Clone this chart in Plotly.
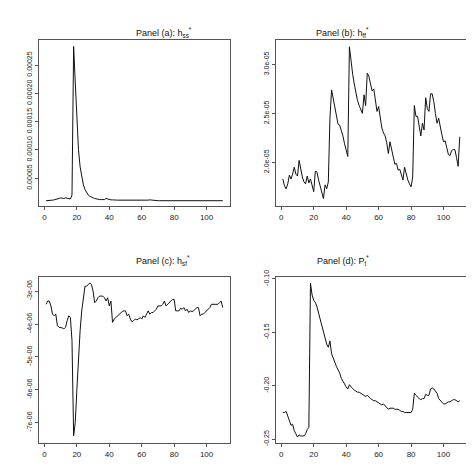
import plotly.graph_objects as go

t = list(range(1, 111))

# panel (a), units of 1e-5
h_a = [1.0, 1.0, 1.05, 1.1, 1.1, 1.15, 1.2, 1.3, 1.4, 1.5, 1.45, 1.4, 1.5, 1.4, 1.3, 1.3,
       2.0, 28.3, 22.0, 15.0, 10.0, 7.0, 5.0, 3.8, 3.0, 2.4, 2.0, 1.8, 1.6, 1.5,
       1.4, 1.3, 1.3, 1.2, 1.2, 1.2, 1.2, 1.4, 1.3, 1.2,
       1.15, 1.15, 1.1, 1.1, 1.1, 1.1, 1.1, 1.05, 1.05, 1.05, 1.05, 1.05, 1.05, 1.05, 1.05,
       1.0, 1.0, 1.0, 1.05, 1.05, 1.0, 1.0, 1.05, 1.1, 1.15, 1.1, 1.05, 1.0, 1.0, 1.0,
       1.0, 1.0, 1.0, 1.0, 1.0, 1.0, 1.0, 1.0, 1.0, 1.0, 1.0, 1.0, 1.0, 1.0, 1.0,
       1.0, 1.0, 1.0, 1.0, 1.0, 1.0, 1.0, 1.0, 1.0, 1.0, 1.05, 1.1, 1.1, 1.05, 1.0,
       1.0, 1.0, 1.0, 1.0, 1.0, 1.0, 1.0, 1.0, 1.0, 1.0]

# panel (b), units of 1e-5
h_b = [1.83, 1.76, 1.73, 1.78, 1.87, 1.83, 1.88, 1.95, 1.88, 1.86, 2.02, 1.93, 1.85, 1.80, 1.78,
       1.86, 1.79, 1.83, 1.76, 1.70, 1.91, 1.90, 1.82, 1.76, 1.68, 1.63, 1.77, 1.73, 1.80, 2.45,
       2.74, 2.65, 2.55, 2.47, 2.39, 2.38, 2.33, 2.27, 2.19, 2.12, 2.06, 3.18, 3.02, 2.90, 2.80,
       2.70, 2.63, 2.58, 2.53, 2.50, 2.69, 2.58, 2.91, 2.88, 2.80, 2.73, 2.75, 2.62, 2.52, 2.57,
       2.45, 2.35, 2.30, 2.27, 2.20, 2.09, 2.21, 2.14, 2.05, 1.98, 1.99, 1.92, 1.93, 1.86, 1.82,
       1.95, 1.88, 1.82, 1.78, 1.75, 1.85, 2.58, 2.47, 2.47, 2.37, 2.27, 2.40, 2.33, 2.66, 2.55,
       2.52, 2.70, 2.70, 2.62, 2.50, 2.40, 2.45, 2.35, 2.28, 2.21, 2.22, 2.15, 2.08, 2.07, 2.12,
       2.13, 2.13, 2.05, 1.96, 2.26]

# panel (c), units of 1e-6
h_c = [-3.4, -3.3, -3.3, -3.45, -3.7, -3.75, -3.7, -4.05, -4.1, -4.1, -4.12, -4.15, -4.1, -3.9, -3.75,
       -3.8, -4.5, -7.4, -7.0, -6.0, -5.0, -4.2, -3.6, -3.15, -2.85, -2.85, -2.8, -2.75, -2.8, -3.0,
       -3.35, -3.3, -3.2, -3.15, -3.15, -3.15, -3.2, -3.3, -3.2, -3.45, -3.3, -3.95, -3.85, -3.8, -3.75,
       -3.7, -3.65, -3.62, -3.6, -3.6, -3.75, -3.7, -3.85, -3.93, -3.9, -3.85, -3.87, -3.85, -3.8, -3.85,
       -3.75, -3.8, -3.7, -3.6, -3.7, -3.65, -3.65, -3.6, -3.55, -3.45, -3.45, -3.45, -3.4, -3.3, -3.45,
       -3.4, -3.35, -3.3, -3.25, -3.25, -3.6, -3.6, -3.6, -3.52, -3.55, -3.5, -3.6, -3.55, -3.65, -3.6,
       -3.62, -3.6, -3.55, -3.5, -3.5, -3.75, -3.7, -3.7, -3.65, -3.6, -3.55, -3.5, -3.4, -3.4, -3.4,
       -3.4, -3.4, -3.35, -3.3, -3.5]

# panel (d)
p_d = [-0.225, -0.225, -0.224, -0.228, -0.232, -0.237, -0.236, -0.242, -0.245, -0.248, -0.246, -0.247,
       -0.247, -0.247, -0.245, -0.241, -0.239, -0.104, -0.115, -0.120, -0.122, -0.126, -0.132, -0.138,
       -0.144, -0.150, -0.156, -0.161, -0.164, -0.158, -0.170, -0.175, -0.178, -0.182, -0.185, -0.188,
       -0.193, -0.196, -0.199, -0.201, -0.203, -0.199, -0.201, -0.203, -0.204, -0.205, -0.206, -0.206,
       -0.207, -0.208, -0.209, -0.210, -0.209, -0.211, -0.212, -0.213, -0.214, -0.214, -0.215, -0.216,
       -0.217, -0.218, -0.217, -0.219, -0.221, -0.222, -0.221, -0.221, -0.221, -0.222, -0.222, -0.222,
       -0.223, -0.224, -0.224, -0.225, -0.225, -0.225, -0.225, -0.225, -0.222, -0.207, -0.209, -0.211,
       -0.212, -0.213, -0.212, -0.212, -0.208, -0.209, -0.209, -0.203, -0.202, -0.203, -0.205, -0.207,
       -0.212, -0.214, -0.216, -0.217, -0.217, -0.216, -0.215, -0.215, -0.214, -0.213, -0.213, -0.214,
       -0.215, -0.214]

titles = ["Panel (a): h<sub>ss</sub><sup>*</sup>", "Panel (b): h<sub>ff</sub><sup>*</sup>",
          "Panel (c): h<sub>sf</sub><sup>*</sup>", "Panel (d): P<sub>t</sub><sup>*</sup>"]

a_ticks = [5e-5, 1e-4, 1.5e-4, 2e-4, 2.5e-4]
a_text = ["0.00005", "0.00010", "0.00015", "0.00020", "0.00025"]
b_ticks = [2.0e-5, 2.5e-5, 3.0e-5]
b_text = ["2.0e-05", "2.5e-05", "3.0e-05"]
c_ticks = [-7e-6, -6e-6, -5e-6, -4e-6, -3e-6]
c_text = ["-7e-06", "-6e-06", "-5e-06", "-4e-06", "-3e-06"]
d_ticks = [-0.25, -0.20, -0.15, -0.10]
d_text = ["-0.25", "-0.20", "-0.15", "-0.10"]

series = [
    ([v * 1e-5 for v in h_a], a_ticks, a_text, [0.0000004, 0.000294]),
    ([v * 1e-5 for v in h_b], b_ticks, b_text, [1.553e-5, 3.247e-5]),
    ([v * 1e-6 for v in h_c], c_ticks, c_text, [-7.626e-6, -2.576e-6]),
    (p_d, d_ticks, d_text, [-0.2537, -0.0984]),
]

xdom = [[0.0654, 0.468], [0.565, 0.968]]
ydom = [[0.582, 0.932], [0.082, 0.432]]

fig = go.Figure()
family = "Liberation Sans, Arial, sans-serif"
for i, (y, tv, tt, yr) in enumerate(series):
    n = i + 1
    xa = "x" if n == 1 else f"x{n}"
    ya = "y" if n == 1 else f"y{n}"
    fig.add_trace(go.Scatter(x=t, y=y, mode="lines", line=dict(color="#111", width=1),
                             xaxis=xa, yaxis=ya, showlegend=False))
    col, row = i % 2, i // 2
    axis = dict(showgrid=False, zeroline=False, showline=True, mirror=True, linecolor="#555",
                linewidth=1, ticks="outside", ticklen=3, tickcolor="#555", automargin=False)
    fig.layout[f"xaxis{'' if n == 1 else n}"] = dict(
        axis, domain=xdom[col], range=[-3.36, 114.36], tickvals=[0, 20, 40, 60, 80, 100],
        anchor=ya, tickfont=dict(family=family, size=8, color="#222"))
    fig.layout[f"yaxis{'' if n == 1 else n}"] = dict(
        axis, domain=ydom[row], range=yr, tickvals=tv, ticktext=tt, tickangle=-90, anchor=xa,
        tickfont=dict(family=family, size=7, color="#222"))
    fig.add_annotation(text=titles[i], xref="paper", yref="paper",
                       x=sum(xdom[col]) / 2, y=ydom[row][1] + 0.035, showarrow=False,
                       font=dict(family=family, size=9, color="#111"))

fig.update_layout(width=474, height=474, margin=dict(l=0, r=0, t=0, b=0),
                  plot_bgcolor="white", paper_bgcolor="white")
fig.write_html("out.html")
